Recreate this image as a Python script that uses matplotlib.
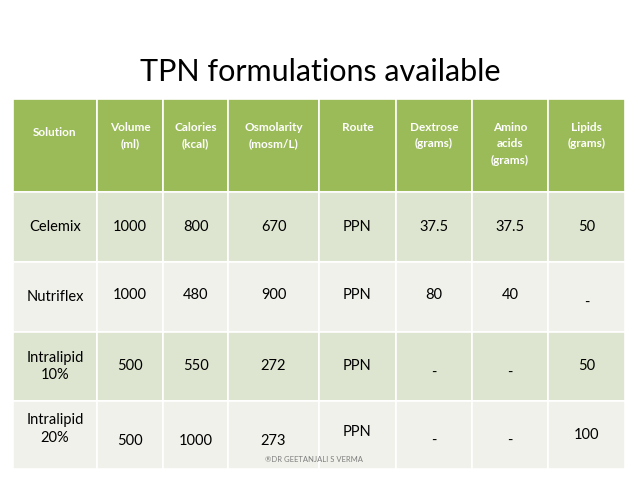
import matplotlib
matplotlib.use("Agg")
import matplotlib.pyplot as plt
from matplotlib.patches import Rectangle

plt.rcParams["font.family"] = ["Lato", "DejaVu Sans"]

title = "TPN formulations available"
headers = ["Solution", "Volume\n(ml)", "Calories\n(kcal)", "Osmolarity\n(mosm/L)", "Route",
           "Dextrose\n(grams)", "Amino\nacids\n(grams)", "Lipids\n(grams)"]
rows = [
    ["Celemix", "1000", "800", "670", "PPN", "37.5", "37.5", "50"],
    ["Nutriflex", "1000", "480", "900", "PPN", "80", "40", "-"],
    ["Intralipid\n10%", "500", "550", "272", "PPN", "-", "-", "50"],
    ["Intralipid\n20%", "500", "1000", "273", "PPN", "-", "-", "100"],
]
footer = "®DR GEETANJALI S VERMA"

col_edges = [13, 97, 163, 228, 319, 396, 472, 548, 625]
row_edges = [99, 192, 262, 332, 401, 469]
header_color = "#9BBB59"
row_colors = ["#DDE5D0", "#EFF1EA", "#DDE5D0", "#EFF1EA"]

fig = plt.figure(figsize=(6.38, 4.79), dpi=100)
ax = fig.add_axes([0, 0, 1, 1])
ax.set_xlim(0, 638)
ax.set_ylim(479, 0)
ax.axis("off")

ax.text(320, 72, title, ha="center", va="center", fontsize=22, color="black")

for r in range(len(row_edges) - 1):
    y0, y1 = row_edges[r], row_edges[r + 1]
    color = header_color if r == 0 else row_colors[r - 1]
    for c in range(len(col_edges) - 1):
        x0, x1 = col_edges[c], col_edges[c + 1]
        ax.add_patch(Rectangle((x0, y0), x1 - x0, y1 - y0, facecolor=color,
                               edgecolor="white", linewidth=1.2))

# header text (top-aligned)
for c, h in enumerate(headers):
    xc = (col_edges[c] + col_edges[c + 1]) / 2
    ax.text(xc, 122 if c > 0 else 132, h, ha="center", va="top" if c > 0 else "center",
            fontsize=8.5, color="white", fontweight="bold", linespacing=1.6)

for r, row in enumerate(rows):
    yc = (row_edges[r + 1] + row_edges[r + 2]) / 2
    for c, val in enumerate(row):
        xc = (col_edges[c] + col_edges[c + 1]) / 2
        y = yc
        if val == "-":
            y = yc + 6
        if r == 1 and c > 0 and val != "-":
            y = yc - 2
        if r == 3 and c < 5:
            y = yc + 6
        if r == 3 and c == 0:
            y = yc - 6
        if r == 3 and c == 4:
            y = yc - 3
        ax.text(xc, y, val, ha="center", va="center", fontsize=10.5, color="black",
                linespacing=1.3)

ax.text(314, 460, footer, ha="center", va="center", fontsize=5.5, color="#7F7F7F")

fig.savefig("out.png", dpi=100)
